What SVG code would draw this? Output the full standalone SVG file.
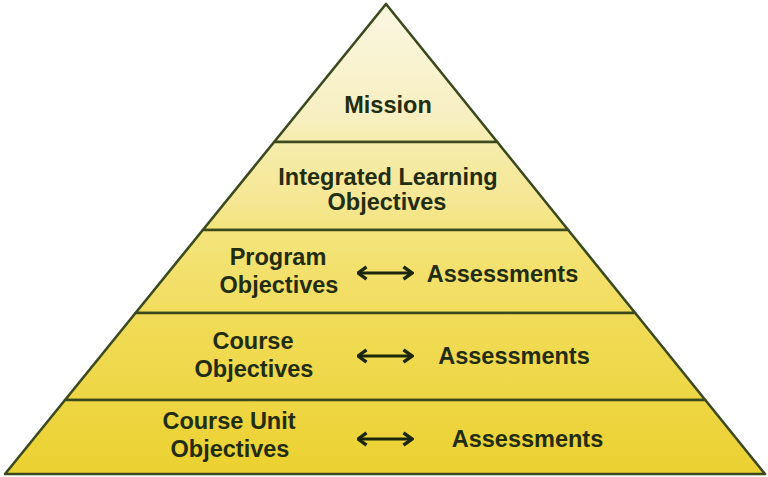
<svg xmlns="http://www.w3.org/2000/svg" width="768" height="477" viewBox="0 0 768 477">
<defs>
<linearGradient id="fillGrad" gradientUnits="userSpaceOnUse" x1="0" y1="4" x2="0" y2="474">
<stop offset="0" stop-color="#fbf7e2"/>
<stop offset="0.245" stop-color="#f7efc0"/>
<stop offset="0.294" stop-color="#f6ecac"/>
<stop offset="0.417" stop-color="#f5e794"/>
<stop offset="0.48" stop-color="#f4e47c"/>
<stop offset="0.63" stop-color="#f2de62"/>
<stop offset="0.66" stop-color="#f1dc58"/>
<stop offset="0.843" stop-color="#eed644"/>
<stop offset="1" stop-color="#ebd130"/>
</linearGradient>
<marker id="head" viewBox="0 0 12 16" markerWidth="12" markerHeight="16" refX="10.5" refY="8" orient="auto-start-reverse" markerUnits="userSpaceOnUse">
<path d="M2,1.8 L10.5,8 L2,14.2" fill="none" stroke="#1c260a" stroke-width="3.4" stroke-linejoin="miter"/>
</marker>
<style>
.band{fill:url(#fillGrad);stroke:#3b4a1e;stroke-width:2.6;stroke-linejoin:round}
.lbl{font-family:"Liberation Sans",Arial,sans-serif;font-weight:bold;font-size:23.5px;fill:#222c0e;text-anchor:middle}
.arr{stroke:#1c260a;stroke-width:3;fill:none;marker-start:url(#head);marker-end:url(#head)}
</style>
</defs>
<g id="mission">
<polygon class="band" points="386,4 497.3,142 274.1,142"/>
<text class="lbl" x="388" y="113">Mission</text>
</g>
<g id="integrated-learning-objectives">
<polygon class="band" points="274.1,142 497.3,142 568.2,230 202.8,230"/>
<text class="lbl" x="388" y="185">Integrated Learning</text>
<text class="lbl" x="387" y="210">Objectives</text>
</g>
<g id="program-objectives">
<polygon class="band" points="202.8,230 568.2,230 635.2,313 135.5,313"/>
<text class="lbl" x="278" y="265">Program</text>
<text class="lbl" x="279" y="293">Objectives</text>
<text class="lbl" x="502.5" y="281.5">Assessments</text>
</g>
<g id="course-objectives">
<polygon class="band" points="135.5,313 635.2,313 705.3,400 65,400"/>
<text class="lbl" x="253" y="349">Course</text>
<text class="lbl" x="254" y="376.5">Objectives</text>
<text class="lbl" x="514" y="363.5">Assessments</text>
</g>
<g id="course-unit-objectives">
<polygon class="band" points="65,400 705.3,400 765,474 5,474"/>
<text class="lbl" x="229" y="428.5">Course Unit</text>
<text class="lbl" x="230" y="456.5">Objectives</text>
<text class="lbl" x="527.5" y="447">Assessments</text>
</g>
<g id="connectors">
<line class="arr" x1="358" y1="273" x2="412" y2="273"/>
<line class="arr" x1="358" y1="356" x2="412" y2="356"/>
<line class="arr" x1="358" y1="439" x2="412" y2="439"/>
</g>
</svg>
